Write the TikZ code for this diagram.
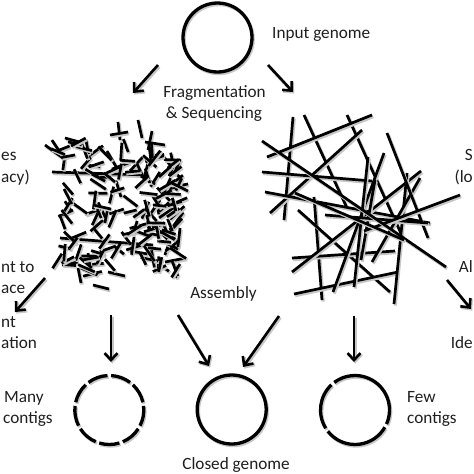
\documentclass[tikz,border=0pt]{standalone}
\usepackage{fontspec}
\setmainfont{Carlito}
\usetikzlibrary{arrows.meta}
\begin{document}
\begin{tikzpicture}[x=1pt,y=-1pt,
  lab/.style={font=\fontsize{17.2}{20}\selectfont, inner sep=0pt, text=black!88},
  genome/.style={circle, minimum size=69pt, inner sep=0pt, line width=3.3pt},
  shad/.style={preaction={draw=black!22, line width=3.2pt, transform canvas={shift={(1.2pt,-1.6pt)}}}},
  frag/.style={line width=2.7pt, shad},
  arc3/.style={line width=3.3pt, shad},
  arr/.style={line width=2.6pt, -{Straight Barb[length=7pt,width=13pt]}, shad}]
\useasboundingbox (0,0) rectangle (474,474);
\clip (0,0) rectangle (474,474);
\fill[white] (0,0) rectangle (474,474);

% genomes
\node[genome, draw, shad] (gin) at (217.5,37.5) {};
\node[genome] (gmany) at (109.3,410) {};
\node[genome, draw, shad] (gclosed) at (231.7,409.5) {};
\node[genome] (gfew) at (355,410) {};
\foreach \k in {0,...,8}{
  \pgfmathsetmacro\t{-(93+40*\k)}
  \draw[arc3] (gmany.center) ++(\t:34.5) arc[start angle=\t, delta angle=-34, radius=34.5];
}
\draw[arc3] (gfew.center) ++(-133:34.5) arc[start angle=-133, end angle=-212, radius=34.5];
\draw[arc3] (gfew.center) ++(-218:34.5) arc[start angle=-218, end angle=-330, radius=34.5];
\draw[arc3] (gfew.center) ++(24:34.5) arc[start angle=24, end angle=-127, radius=34.5];

% labels
\node[lab, anchor=base west] (tin) at (272,38) {Input genome};
\node[lab, anchor=base] (tfrag) at (214.5,97) {Fragmentation};
\node[lab, anchor=base] (tseq) at (214,118) {\& Sequencing};
\node[lab, anchor=base] (tasm) at (223.5,298) {Assembly};
\node[lab, anchor=base west] (tmany1) at (4,402) {Many};
\node[lab, anchor=base west] (tmany2) at (3,423) {contigs};
\node[lab, anchor=base west] (tfew1) at (407,402) {Few};
\node[lab, anchor=base west] (tfew2) at (407,423) {contigs};
\node[lab, anchor=base] (tclosed) at (236,469) {Closed genome};
% partial labels at the edges, as the reference prints them
\node[lab, anchor=base west] (el1) at (1,160) {es};
\node[lab, anchor=base west] (el2) at (1,182) {acy)};
\node[lab, anchor=base west] (el3) at (1,272) {nt to};
\node[lab, anchor=base west] (el4) at (1,293) {ace};
\node[lab, anchor=base west] (el5) at (1,327) {nt};
\node[lab, anchor=base west] (el6) at (1,348) {ation};
\node[lab, anchor=base east] (er1) at (473,160) {S};
\node[lab, anchor=base east] (er2) at (473,182) {(lo};
\node[lab, anchor=base east] (er3) at (473,272) {Al};
\node[lab, anchor=base east] (er4) at (473,348) {Ide};

% arrow end points
\coordinate (a1s) at (158,65);  \coordinate (a1e) at (133,93);
\coordinate (a2s) at (268,65);  \coordinate (a2e) at (293,92);
\coordinate (a3s) at (111,315); \coordinate (a3e) at (111,362);
\coordinate (a4s) at (178,315); \coordinate (a4e) at (209,366);
\coordinate (a5s) at (279,316); \coordinate (a5e) at (243,367);
\coordinate (a6s) at (354,316); \coordinate (a6e) at (354,362);
\coordinate (a7s) at (45,278);  \coordinate (a7e) at (15,312);
\coordinate (a8s) at (447,280); \coordinate (a8e) at (471,309);
\foreach \n in {1,...,8}{ \draw[arr] (a\n s) -- (a\n e); }

% long reads (right)
\foreach \p/\q in {
  {(293,117)}/{(284,220)}, {(304,115)}/{(347,208)}, {(347,115)}/{(404,240)},
  {(372,115)}/{(267,157)}, {(362,130)}/{(270,213)}, {(262,172)}/{(372,181)},
  {(265,192)}/{(430,223)}, {(314,197)}/{(322,300)}, {(298,210)}/{(390,292)},
  {(292,258)}/{(395,251)}, {(292,272)}/{(421,171)}, {(294,294)}/{(398,272)},
  {(394,304)}/{(407,173)}, {(333,292)}/{(384,153)}, {(354,287)}/{(368,157)},
  {(361,260)}/{(375,180)}, {(372,262)}/{(420,178)}, {(387,133)}/{(428,238)},
  {(325,215)}/{(428,223)}, {(460,195)}/{(364,231)}, {(262,141)}/{(446,267)},
  {(295,193)}/{(404,240)}}{
  \draw[frag] \p -- \q;
}

% short reads (left)
\draw[frag] (52,172) -- (147,175);
\draw[frag] (60,238) -- (153,245);
\draw[frag] (93,285) -- (109,289);
\foreach \p/\q in {
  {(118,122)}/{(120,140)}, {(110,135)}/{(128,132)}, {(138,120)}/{(142,138)},
  {(152,131)}/{(148,150)}, {(145,142)}/{(165,145)}, {(65,138)}/{(83,143)},
  {(45,145)}/{(63,158)}, {(160,152)}/{(170,165)}, {(172,187)}/{(188,184)},
  {(165,262)}/{(186,258)}, {(170,228)}/{(178,248)}, {(62,265)}/{(78,262)},
  {(78,268)}/{(81,283)}, {(108,272)}/{(125,276)}}{
  \draw[frag] \p -- \q;
}
\pgfmathsetseed{4711}
\foreach \i in {1,...,165}{
  \pgfmathsetmacro\cx{56+124*rnd}
  \pgfmathsetmacro\cy{142+132*rnd}
  \pgfmathsetmacro\ang{180*rnd}
  \pgfmathsetmacro\hl{6.5+3.2*rnd}
  \draw[frag] (\cx,\cy) ++(\ang:\hl) -- ++({\ang+180}:{2*\hl});
}
\end{tikzpicture}
\end{document}
